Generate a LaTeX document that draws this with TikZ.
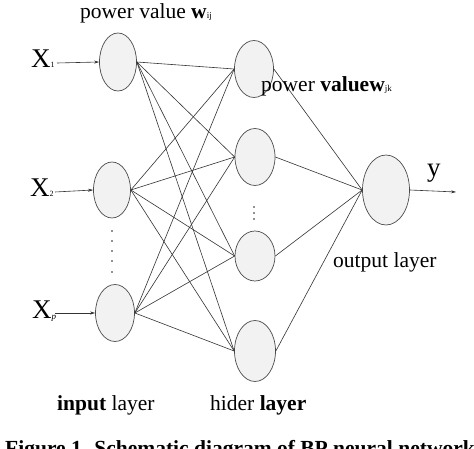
\documentclass[tikz,border=0pt]{standalone}
\usepackage{fontspec}
\setmainfont{Liberation Serif}
\usetikzlibrary{shapes.geometric,arrows.meta}
\begin{document}
\begin{tikzpicture}[x=1pt,y=-1pt,
  neuron/.style={ellipse,draw=black!70,fill=black!5,line width=0.7pt,inner sep=0pt},
  conn/.style={draw=black!80,line width=0.6pt},
  inarrow/.style={conn,-{Stealth[length=5pt,width=3pt]}},
  lbl/.style={anchor=base west,inner sep=0pt,font=\fontsize{21.5}{24}\selectfont},
  xlbl/.style={anchor=base west,inner sep=0pt,font=\fontsize{27}{30}\selectfont},
  dotmark/.style={fill=black!85,circle,inner sep=0pt,minimum size=1.6pt}]
\useasboundingbox (0,0) rectangle (474,449);
\fill[white] (0,0) rectangle (474,449);
% input layer
\node[neuron,minimum width=37pt,minimum height=58pt] (i1) at (118,62) {};
\node[neuron,minimum width=37pt,minimum height=56pt] (i2) at (112,190) {};
\node[neuron,minimum width=39pt,minimum height=57pt] (ip) at (115,313) {};
% hidden layer
\node[neuron,minimum width=39pt,minimum height=57pt] (h1) at (254,69) {};
\node[neuron,minimum width=40pt,minimum height=57pt] (h2) at (255,157) {};
\node[neuron,minimum width=40pt,minimum height=50pt] (h3) at (255,256) {};
\node[neuron,minimum width=41pt,minimum height=61pt] (h4) at (255,351) {};
% output
\node[neuron,minimum width=47pt,minimum height=70pt] (o) at (386,190) {};
% connections
\foreach \a in {i1,i2,ip}{
  \foreach \b in {h1,h2,h3,h4}{
    \draw[conn] (\a.east) -- (\b.west);
  }
}
\foreach \b in {h1,h2,h3,h4}{
  \draw[conn] (\b.east) -- (o.west);
}
% input arrows
\coordinate (s1) at (57,63);
\coordinate (s2) at (55,192);
\coordinate (sp) at (55,313);
\coordinate (yend) at (456,192);
\draw[inarrow] (s1) -- (i1.west);
\draw[inarrow] (s2) -- (i2.west);
\draw[inarrow] (sp) -- (ip.west);
\draw[inarrow] (o.east) -- (yend);
% input labels
\node[xlbl] (x1) at (31,68) {X{\fontsize{8}{9}\selectfont 1}};
\node[xlbl] (x2) at (30,197) {X{\fontsize{8}{9}\selectfont 2}};
\node[xlbl] (xp) at (32,318) {X\raisebox{-1pt}{\fontsize{9}{10}\selectfont\itshape p}};
\node[xlbl] (ylab) at (427,177) {y};
% dots
\foreach \yy [count=\k] in {231,241,251,261,272}{
  \node[dotmark] (di\k) at (112,\yy) {};
}
\foreach \yy [count=\k] in {207,213,219}{
  \node[dotmark] (dh\k) at (254,\yy) {};
}
% text labels
\node[lbl] (pw1) at (80,19) {power value \textbf{w}{\fontsize{9}{10}\selectfont ij}};
\node[lbl] (pw2) at (261,92) {power \textbf{valuew}{\fontsize{9}{10}\selectfont jk}};
\node[lbl] (outl) at (333,268) {output layer};
\node[lbl] (inl) at (57,410) {\textbf{input} layer};
\node[lbl] (hidl) at (210,410) {hider \textbf{layer}};
\node[lbl,font=\fontsize{21.5}{24}\selectfont\bfseries] (cap) at (5,455) {Figure 1. Schematic diagram of BP neural network};
\end{tikzpicture}
\end{document}
